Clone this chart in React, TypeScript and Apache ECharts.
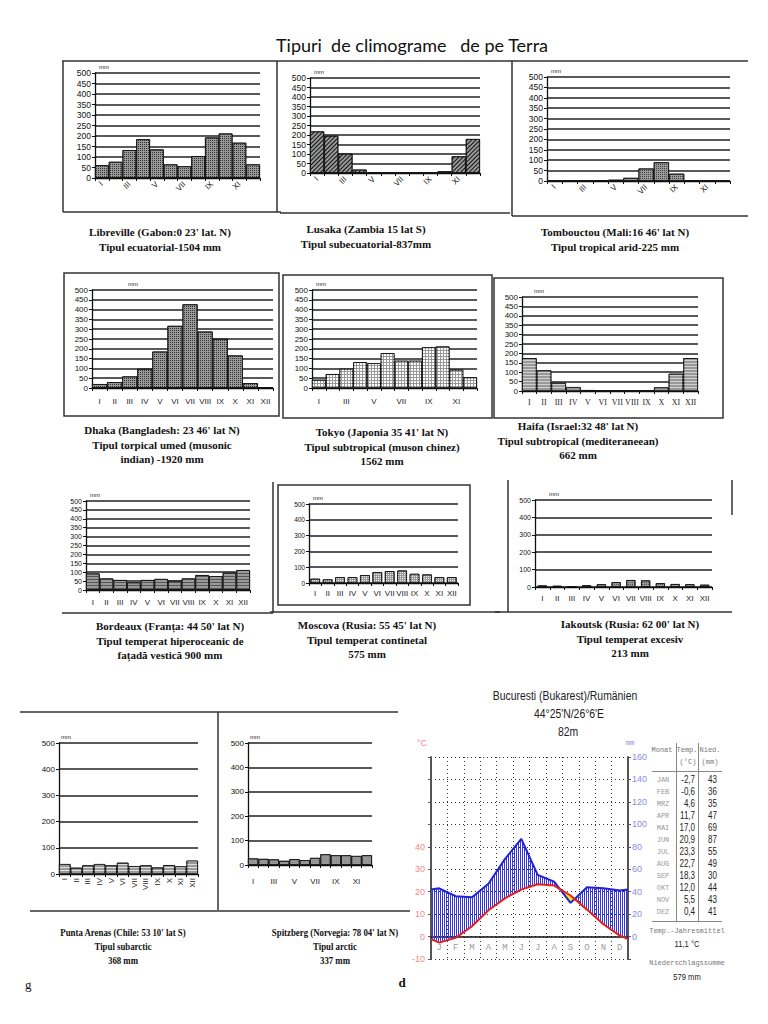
import React, { useEffect, useRef } from "react";
import * as echarts from "echarts";

// ---------- data ----------
const romanMonths = ["I", "II", "III", "IV", "V", "VI", "VII", "VIII", "IX", "X", "XI", "XII"];

const librevilleRain = [61, 77, 133, 185, 136, 65, 56, 104, 193, 212, 168, 65];
const lusakaRain = [219, 196, 102, 18, 4, 0, 0, 0, 0, 9, 88, 179];
const tombouctouRain = [0, 0, 0, 3, 6, 15, 60, 90, 35, 3, 0, 0];
const dhakaRain = [20, 30, 59, 98, 186, 317, 427, 288, 251, 166, 25, 3];
const tokyoRain = [42, 71, 98, 132, 127, 178, 139, 139, 208, 212, 93, 54];
const haifaRain = [175, 110, 44, 21, 5, 0, 0, 0, 1, 20, 92, 175];
const bordeauxRain = [93, 65, 56, 43, 56, 62, 52, 65, 84, 78, 97, 112];
const moscovaRain = [27, 23, 37, 37, 50, 69, 75, 79, 58, 54, 37, 37];
const iakoutskRain = [9, 7, 5, 10, 16, 28, 40, 38, 22, 17, 16, 13];
const puntaArenasRain = [38, 24, 33, 38, 33, 43, 30, 33, 25, 34, 29, 51];
const spitzbergRain = [27, 25, 23, 17, 24, 20, 29, 44, 40, 40, 37, 40];

const bucMonthInitials = ["J", "F", "M", "A", "M", "J", "J", "A", "S", "O", "N", "D"];
const bucMonthNames = ["JAN", "FEB", "MRZ", "APR", "MAI", "JUN", "JUL", "AUG", "SEP", "OKT", "NOV", "DEZ"];
const bucTemp = [-2.7, -0.6, 4.6, 11.7, 17.0, 20.9, 23.3, 22.7, 18.3, 12.0, 5.5, 0.4];
const bucPrecip = [43, 36, 35, 47, 69, 87, 55, 49, 30, 44, 43, 41];

// ---------- styles ----------
const stipple = (bg: string, fg: string, gap = 1) => ({
  symbol: "rect", symbolSize: 1, dashArrayX: [1, gap], dashArrayY: [1, gap], color: fg, backgroundColor: bg,
});
const stripes = (bg: string, fg: string, rotation: number, on: number, off: number) => ({
  symbol: "rect", symbolSize: 1, dashArrayX: [1, 0], dashArrayY: [on, off], rotation, color: fg, backgroundColor: bg,
});

const SANS = "Liberation Sans";
const SERIF = "Liberation Serif";

const panels: any[] = [
  { data: librevilleRain, left: 95, top: 73, width: 165, height: 105, yInt: 50, li: 1, rot: 45, lm: 5, yf: 8.5, mm: 4,
    decal: stipple("#b4b4b4", "#333") },
  { data: lusakaRain, left: 310, top: 78, width: 170, height: 95, yInt: 50, li: 1, rot: 45, lm: 5, yf: 8.5, mm: 4,
    decal: stripes("#ffffff", "#111", -Math.PI / 4, 1, 2) },
  { data: tombouctouRain, left: 547, top: 77, width: 183, height: 104, yInt: 50, li: 1, rot: 45, lm: 5, yf: 8.5, mm: 4,
    decal: stipple("#d4d4d4", "#444") },
  { data: dhakaRain, left: 92, top: 290, width: 181, height: 98, yInt: 50, li: 0, rot: 0, lm: 9, yf: 8, mm: 36,
    decal: stipple("#c4c4c4", "#333") },
  { data: tokyoRain, left: 312, top: 290, width: 165, height: 98, yInt: 50, li: 1, rot: 0, lm: 9, yf: 8, mm: 4,
    decal: { symbol: "rect", symbolSize: 1, dashArrayX: [2, 1], dashArrayY: [2, 1], color: "#ffffff", backgroundColor: "#222" } },
  { data: haifaRain, left: 522, top: 297, width: 176, height: 94, yInt: 50, li: 0, rot: 0, lm: 7, yf: 8, mm: 12, lfont: SERIF,
    decal: stripes("#555", "#cfcfcf", 0, 1, 2) },
  { data: bordeauxRain, left: 86, top: 501, width: 164, height: 89, yInt: 50, li: 0, rot: 0, lm: 8, yf: 7, mm: 4,
    decal: stripes("#a4a4a4", "#555", 0, 1, 2) },
  { data: moscovaRain, left: 309, top: 504, width: 149, height: 79, yInt: 100, li: 0, rot: 0, lm: 6, yf: 6.5, mm: 4, gap: "22%",
    decal: stipple("#333", "#eeeeee") },
  { data: iakoutskRain, left: 535, top: 500, width: 177, height: 87, yInt: 100, li: 0, rot: 0, lm: 7, yf: 7, mm: 14, gap: "38%",
    decal: stipple("#c8c8c8", "#555") },
  { data: puntaArenasRain, left: 59, top: 743, width: 139, height: 131, yInt: 100, li: 0, rot: 90, lm: 4, yf: 8, mm: 2,
    decal: stripes("#4a4a4a", "#dddddd", 0, 1, 2) },
  { data: spitzbergRain, left: 248, top: 743, width: 124, height: 122, yInt: 100, li: 1, rot: 0, lm: 12, yf: 8, mm: 2,
    decal: stipple("#222", "#888") },
];

// Walter-Lieth: month centres plus the two year boundaries (boundary = mean of Dec and Jan)
const bucX = [0, ...bucTemp.map((_, i) => i + 0.5), 12];
const bucTempPts = [(bucTemp[0] + bucTemp[11]) / 2, ...bucTemp, (bucTemp[0] + bucTemp[11]) / 2];
const bucPrecipPts = [(bucPrecip[0] + bucPrecip[11]) / 2, ...bucPrecip, (bucPrecip[0] + bucPrecip[11]) / 2];

const fmt1 = (v: number) => v.toFixed(1).replace(".", ",");

function buildOption() {
  const grid: any[] = [];
  const xAxis: any[] = [];
  const yAxis: any[] = [];
  const series: any[] = [];

  panels.forEach((p, i) => {
    grid.push({ left: p.left, top: p.top, width: p.width, height: p.height });
    xAxis.push({
      type: "category", gridIndex: i, data: romanMonths,
      axisLine: { lineStyle: { color: "#111", width: 1.3 } },
      axisTick: { show: true, length: 3, interval: 0, lineStyle: { color: "#111" } },
      axisLabel: { interval: p.li, rotate: p.rot, fontSize: 8, fontFamily: p.lfont || SANS, color: "#222", margin: p.lm },
      splitLine: { show: false },
    });
    yAxis.push({
      type: "value", gridIndex: i, min: 0, max: 500, interval: p.yInt,
      name: "mm", nameLocation: "end", nameGap: 3,
      nameTextStyle: { fontSize: 6, fontFamily: SANS, color: "#222", align: "left", padding: [0, 0, 0, p.mm] },
      axisLine: { show: true, onZero: false, lineStyle: { color: "#111", width: 1.3 } },
      axisTick: { show: true, length: 3, lineStyle: { color: "#111" } },
      axisLabel: { fontSize: p.yf, fontFamily: SANS, color: "#111", margin: 4 },
      splitLine: { show: true, lineStyle: { color: "#222", width: 1.5 } },
    });
    series.push({
      type: "bar", xAxisIndex: i, yAxisIndex: i, data: p.data,
      barCategoryGap: p.gap || "0%",
      itemStyle: { color: "#999", borderColor: "#111", borderWidth: 0.8, decal: p.decal },
      silent: true,
    });
  });

  // ---- Walter-Lieth diagram ----
  const g = grid.length;
  grid.push({ left: 431, top: 757, width: 197, height: 202 });
  const xv = xAxis.length;
  xAxis.push({
    type: "value", gridIndex: g, min: 0, max: 12, interval: 1,
    axisLine: { show: true, onZero: true, lineStyle: { color: "#111", width: 1.5 } },
    axisTick: { show: false }, axisLabel: { show: false },
    splitLine: { show: true, lineStyle: { color: "#333", width: 1, type: [1, 3] } },
  });
  const yl = yAxis.length;
  yAxis.push({
    type: "value", gridIndex: g, position: "left", min: -10, max: 80, interval: 10,
    axisLine: { show: true, onZero: false, lineStyle: { color: "#555", width: 2 } },
    axisTick: { show: true, length: 3, lineStyle: { color: "#555" } },
    axisLabel: { formatter: (v: number) => (v <= 40 ? String(v) : ""), color: "#f08a8a", fontSize: 9, fontFamily: SANS, margin: 6 },
    splitLine: { show: true, lineStyle: { color: "#333", width: 1, type: [1, 3] } },
  });
  yAxis.push({
    type: "value", gridIndex: g, position: "right", min: -20, max: 160, interval: 20,
    axisLine: { show: true, onZero: false, lineStyle: { color: "#555", width: 2 } },
    axisTick: { show: true, length: 3, lineStyle: { color: "#555" } },
    axisLabel: { formatter: (v: number) => (v >= 0 ? String(v) : ""), color: "#8a8ae8", fontSize: 9, fontFamily: SANS, margin: 4 },
    splitLine: { show: false },
  });

  // month initials strip between the 0 and -10 lines
  const gm = grid.length;
  grid.push({ left: 431, top: 937, width: 197, height: 22 });
  xAxis.push({
    type: "category", gridIndex: gm, data: bucMonthInitials, boundaryGap: true, position: "top",
    axisLine: { show: false }, axisTick: { show: false },
    axisLabel: { inside: true, color: "#9a9a9a", fontSize: 9, fontFamily: "Liberation Mono", margin: 6 },
    splitLine: { show: false },
  });
  yAxis.push({ type: "value", gridIndex: gm, min: 0, max: 1, show: false });

  const vline = (x: number, y1: number, y2: number, c: string) => ({
    type: "line", shape: { x1: x + 0.5, y1, x2: x + 0.5, y2 }, style: { stroke: c, lineWidth: 1 },
  });

  series.push({
    type: "custom", coordinateSystem: "cartesian2d", xAxisIndex: xv, yAxisIndex: yl, silent: true, z: 1,
    data: bucX.slice(0, -1).map((_, i) => [i, 0]),
    renderItem: (params: any, api: any) => {
      const i = params.dataIndex;
      // precipitation drawn on the temperature scale: 20 mm = 10 °C
      const a = api.coord([bucX[i], bucTempPts[i]]);
      const b = api.coord([bucX[i + 1], bucTempPts[i + 1]]);
      const c = api.coord([bucX[i], bucPrecipPts[i] / 2]);
      const d = api.coord([bucX[i + 1], bucPrecipPts[i + 1] / 2]);
      const children: any[] = [];
      const x0 = a[0], x1 = b[0];
      for (let px = Math.ceil(x0); px < x1; px++) {
        const f = (px - x0) / (x1 - x0);
        const ty = a[1] + (b[1] - a[1]) * f;
        const py = c[1] + (d[1] - c[1]) * f;
        if (py < ty) {
          if (px % 2 === 0) children.push(vline(px, py, ty, "#3535dc"));
        } else {
          children.push(vline(px, ty, py, "#f2e21a"));
        }
      }
      return { type: "group", children };
    },
  });
  series.push({
    type: "line", xAxisIndex: xv, yAxisIndex: yl + 1, z: 3, symbol: "none", silent: true,
    data: bucX.map((x, i) => [x, bucPrecipPts[i]]),
    lineStyle: { color: "#2222d0", width: 2 },
  });
  series.push({
    type: "line", xAxisIndex: xv, yAxisIndex: yl, z: 4, symbol: "none", silent: true,
    data: bucX.map((x, i) => [x, bucTempPts[i]]),
    lineStyle: { color: "#e31f1f", width: 2 },
  });

  // ---- graphics: frames, titles, captions, table ----
  const L = (x1: number, y1: number, x2: number, y2: number, w = 1.5, c = "#333") => ({
    type: "line", shape: { x1, y1, x2, y2 }, style: { stroke: c, lineWidth: w }, silent: true,
  });
  const R = (x1: number, y1: number, x2: number, y2: number) => ({
    type: "rect", shape: { x: x1, y: y1, width: x2 - x1, height: y2 - y1 },
    style: { fill: "none", stroke: "#333", lineWidth: 1.5 }, silent: true,
  });
  const T = (text: string, x: number, y: number, font: string, fill = "#111", align = "center", sx = 1) => ({
    type: "text", x, y, scaleX: sx, silent: true,
    style: { text, font, fill, textAlign: align, textVerticalAlign: "middle" },
  });
  const CAP = `bold 11px "${SERIF}"`;
  const MONO = `"Liberation Mono", monospace`;
  const NS = `"Liberation Sans", sans-serif`;

  const captions: [string[], number, number][] = [
    [["Libreville (Gabon:0 23' lat. N)", "Tipul ecuatorial-1504 mm"], 160, 232],
    [["Lusaka (Zambia 15 lat S)", "Tipul subecuatorial-837mm"], 366, 229],
    [["Tombouctou (Mali:16 46' lat N)", "Tipul tropical arid-225 mm"], 615, 232],
    [["Dhaka (Bangladesh: 23 46' lat N)", "Tipul torpical umed (musonic", "indian) -1920 mm"], 162, 430],
    [["Tokyo (Japonia 35 41' lat N)", "Tipul subtropical (muson chinez)", "1562 mm"], 382, 432],
    [["Haifa (Israel:32 48' lat N)", "Tipul subtropical (mediteraneean)", "662 mm"], 578, 426],
    [["Bordeaux (Franța: 44 50' lat N)", "Tipul temperat hiperoceanic de", "fațadă vestică 900 mm"], 170, 626],
    [["Moscova (Rusia: 55 45' lat N)", "Tipul temperat continetal", "575 mm"], 367, 625],
    [["Iakoutsk (Rusia: 62 00' lat N)", "Tipul temperat excesiv", "213 mm"], 630, 624],
  ];
  const graphics: any[] = [];
  captions.forEach(([lines, x, y]) => {
    lines.forEach((s, k) => graphics.push(T(s, x, y + k * 14.5, CAP)));
  });
  const narrowCaps: [string[], number, number][] = [
    [["Punta Arenas (Chile: 53 10' lat S)", "Tipul subarctic", "368 mm"], 123, 932],
    [["Spitzberg (Norvegia: 78 04' lat N)", "Tipul arctic", "337 mm"], 335, 932],
  ];
  narrowCaps.forEach(([lines, x, y]) => {
    lines.forEach((s, k) => graphics.push(T(s, x, y + k * 14, CAP, "#111", "center", 0.8)));
  });

  graphics.push(T("Tipuri  de climograme   de pe Terra", 412, 45, `18px Lato, "Open Sans", sans-serif`));
  graphics.push(T("g", 25, 984, `13px "${SERIF}"`, "#111", "left"));
  graphics.push(T("d", 402, 982, `bold 13px "${SERIF}"`, "#111", "center"));

  // frames
  graphics.push(
    L(62, 61, 748, 61), L(63, 61, 63, 212), L(63, 212, 281, 212), L(277, 61, 277, 212),
    L(280, 213, 510, 213), L(512, 61, 512, 216), L(512, 216, 748, 216),
    R(64, 273, 279, 416), R(283, 275, 492, 418), R(494, 278, 723, 418),
    L(273, 482, 273, 613), L(62, 613, 273, 613),
    R(278, 485, 470, 605), L(270, 612, 500, 612),
    L(508, 480, 508, 612), L(732, 480, 732, 515), L(495, 612, 732, 612),
    L(20, 712, 398, 712), L(218, 712, 218, 910), L(30, 911, 410, 911),
  );

  // Bucuresti header
  graphics.push(T("Bucuresti (Bukarest)/Rumänien", 565, 695, `13px ${NS}`, "#222", "center", 0.8));
  graphics.push(T("44°25'N/26°6'E", 569, 713, `13px ${NS}`, "#222", "center", 0.8));
  graphics.push(T("82m", 568, 731, `13px ${NS}`, "#222", "center", 0.8));
  graphics.push(T("°C", 422, 743, `9px ${SANS}`, "#f08a8a"));
  graphics.push(T("mm", 630, 743, `7px ${MONO}`, "#8a8ae8"));

  // table
  const TG = "#777";
  graphics.push(T("Monat", 662, 750, `7px ${MONO}`, TG));
  graphics.push(T("Temp.", 687, 750, `7px ${MONO}`, TG));
  graphics.push(T("Nied.", 710, 750, `7px ${MONO}`, TG));
  graphics.push(T("(°C)", 688, 762, `7px ${MONO}`, TG));
  graphics.push(T("(mm)", 710, 762, `7px ${MONO}`, TG));
  graphics.push(L(676.5, 743, 676.5, 921, 1, "#888"), L(698.5, 743, 698.5, 921, 1, "#888"));
  graphics.push(L(652, 771.5, 722, 771.5, 1, "#888"), L(652, 921.5, 722, 921.5, 1, "#888"));
  bucMonthNames.forEach((m, i) => {
    const y = 780 + i * 12;
    graphics.push(T(m, 663, y, `7px ${MONO}`, "#999"));
    graphics.push(T(fmt1(bucTemp[i]), 695, y, `10px ${NS}`, "#222", "right", 0.8));
    graphics.push(T(String(bucPrecip[i]), 717, y, `10px ${NS}`, "#222", "right", 0.8));
  });
  graphics.push(T("Temp.-Jahresmittel", 687, 931, `7px ${MONO}`, TG));
  graphics.push(T("11,1 °C", 687, 944, `9.5px ${NS}`, "#222", "center", 0.8));
  graphics.push(T("Niederschlagssumme", 687, 963, `7px ${MONO}`, TG));
  graphics.push(T("579 mm", 687, 977, `9.5px ${NS}`, "#222", "center", 0.8));

  return {
    animation: false,
    backgroundColor: "#ffffff",
    grid, xAxis, yAxis, series,
    graphic: { elements: graphics },
  };
}

export default function App() {
  const ref = useRef<HTMLDivElement>(null);
  useEffect(() => {
    document.body.style.margin = "0";
    const chart = echarts.init(ref.current!, undefined, { renderer: "svg" });
    chart.setOption(buildOption() as any);
    return () => chart.dispose();
  }, []);
  return <div ref={ref} style={{ width: 768, height: 1024 }} />;
}
